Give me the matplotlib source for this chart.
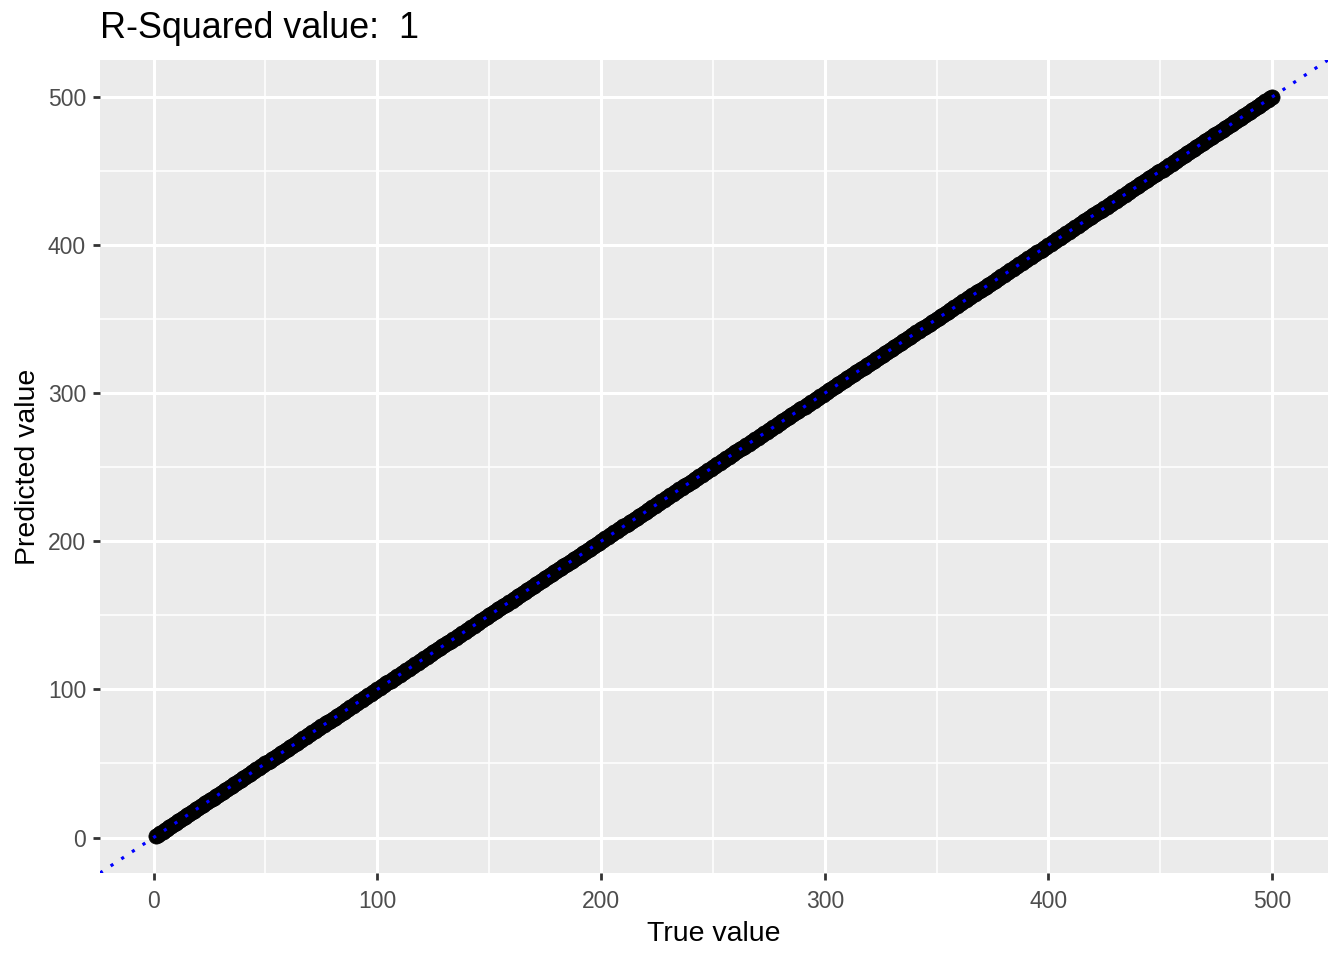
import numpy as np
import matplotlib
matplotlib.use("Agg")
import matplotlib.pyplot as plt
from matplotlib.ticker import MultipleLocator

# data: every true value from 1 to 500, predicted exactly the same
true_value = np.arange(1, 501)
predicted_value = np.arange(1, 501)
r_squared = 1

plt.rcParams['font.family'] = ['Liberation Sans', 'DejaVu Sans']

fig = plt.figure(figsize=(13.44, 9.6), dpi=100)
ax = fig.add_axes([100/1344, 1 - 873/960, 1228/1344, 813/960])

ax.set_facecolor('#EBEBEB')
for s in ax.spines.values():
    s.set_visible(False)

ax.xaxis.set_major_locator(MultipleLocator(100))
ax.xaxis.set_minor_locator(MultipleLocator(50))
ax.yaxis.set_major_locator(MultipleLocator(100))
ax.yaxis.set_minor_locator(MultipleLocator(50))
ax.grid(which='major', color='white', linewidth=2.2)
ax.grid(which='minor', color='white', linewidth=1.1)
ax.set_axisbelow(True)

ax.scatter(true_value, predicted_value, s=120, color='black', linewidths=0.5,
           edgecolors='black', zorder=3)

xmin, xmax = -23.95, 524.95
ymin, ymax = -23.95, 524.95
ax.plot([xmin, xmax], [xmin, xmax], color='blue', linestyle=(0, (1, 3)),
        linewidth=2.3, zorder=4)
ax.set_xlim(xmin, xmax)
ax.set_ylim(ymin, ymax)

ax.tick_params(which='major', length=5, width=2, color='#333333',
               labelsize=16.5, labelcolor='#4D4D4D', pad=5)
ax.tick_params(axis='x', which='major', pad=7)
ax.tick_params(which='minor', length=0)

ax.set_xlabel('True value', fontsize=20.5, labelpad=6)
ax.set_ylabel('Predicted value', fontsize=20.5, labelpad=5)
ax.set_title('R-Squared value:  %d' % r_squared, fontsize=25.8, loc='left', pad=16)

fig.savefig('out.png', dpi=100)
